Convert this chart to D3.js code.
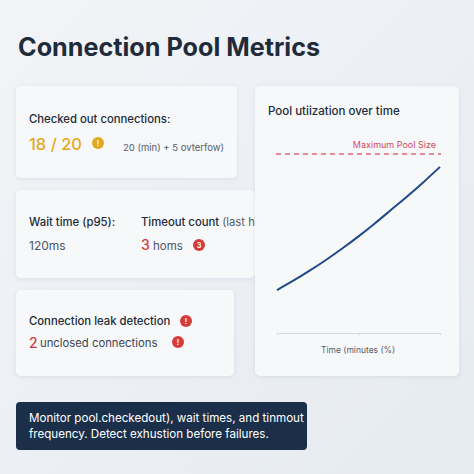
<!DOCTYPE html>
<html><head><meta charset="utf-8">
<script src="https://cdn.jsdelivr.net/npm/d3@7"></script>
<style>body{margin:0;background:#eef1f5;font-family:Inter,"Noto Sans",sans-serif}</style>
</head><body><svg id="c" width="474" height="474"></svg>
<script>
const minutes = [0, 1, 2, 3, 4, 5, 6, 7, 8, 9, 10];
const utilization = [6, 7.3, 8.7, 10.2, 11.8, 13.5, 15.3, 17.2, 19.1, 21.1, 23.2];
const maxPool = 25;

const svg = d3.select('#c');
const bg = svg.append('defs').append('linearGradient').attr('id', 'bg').attr('x1', 0).attr('y1', 0).attr('x2', 1).attr('y2', 1);
bg.append('stop').attr('offset', 0).attr('stop-color', '#f2f4f7');
bg.append('stop').attr('offset', 1).attr('stop-color', '#e6ebf1');
svg.append('rect').attr('width', 474).attr('height', 474).attr('fill', 'url(#bg)');

const f = svg.append('defs').append('filter').attr('id', 'sh').attr('x', -0.1).attr('y', -0.1).attr('width', 1.2).attr('height', 1.2);
f.append('feDropShadow').attr('dx', 0).attr('dy', 1).attr('stdDeviation', 2).attr('flood-color', '#9aa6b5').attr('flood-opacity', 0.25);

function card(x, y, w, h) {
    svg.append('rect').attr('x', x).attr('y', y).attr('width', w).attr('height', h).attr('rx', 5)
        .attr('fill', '#f7f8fa').attr('filter', 'url(#sh)');
}
function txt(x, y, s, size, color, weight, anchor) {
    return svg.append('text').attr('x', x).attr('y', y).text(s).attr('font-size', size)
        .attr('fill', color).attr('font-weight', weight || 400).attr('text-anchor', anchor || 'start');
}
function badge(x, y, r, color, s) {
    svg.append('circle').attr('cx', x).attr('cy', y).attr('r', r).attr('fill', color);
    txt(x, y + r * 0.45, s, r * 1.2, '#fff', 700, 'middle');
}

txt(18, 56, 'Connection Pool Metrics', 25.2, '#1f2a3a', 700);

card(16, 86, 221, 92);
txt(29, 123, 'Checked out connections:', 11.3, '#222b38', 500);
txt(29, 150, '18 / 20', 16.5, '#e5a823', 500);
badge(98, 143, 6, '#e5a823', '!');
txt(123, 151, '20 (min) + 5 ovterfow)', 9.5, '#555e6a');

card(16, 190, 239, 88);
txt(29, 226, 'Wait time (p95):', 11.3, '#222b38', 500);
txt(29, 250, '120ms', 12, '#4b5563');
const tc = txt(141, 226, 'Timeout count ', 11.3, '#222b38', 500);
tc.append('tspan').attr('font-weight', 400).attr('fill', '#555e6a').text('(last hour)');
txt(141, 250, '3', 14, '#d63b3b', 500);
txt(153, 250, 'homs', 11.5, '#4b5563');
badge(199, 245, 6, '#d63b3b', '3');

card(16, 290, 218, 86);
txt(29, 325, 'Connection leak detection', 11.3, '#222b38', 500);
badge(186, 321, 6, '#d63b3b', '!');
txt(29, 348, '2', 14, '#d63b3b', 500);
txt(40, 347, 'unclosed connections', 11.3, '#3b4452');
badge(178, 342, 6, '#d63b3b', '!');

card(255, 86, 204, 290);
txt(268, 115, 'Pool utiization over time', 11.5, '#222b38', 500);

const x = d3.scaleLinear().domain([0, 10]).range([277, 440]);
const y = d3.scaleLinear().domain([0, maxPool]).range([333, 154]);
svg.append('line').attr('x1', 276).attr('x2', 441).attr('y1', y(maxPool)).attr('y2', y(maxPool))
    .attr('stroke', '#e06a73').attr('stroke-width', 1.3).attr('stroke-dasharray', '5,4');
txt(436, 148, 'Maximum Pool Size', 9, '#d9475a', 400, 'end');
svg.append('path').datum(utilization)
    .attr('d', d3.line().x((d, i) => x(minutes[i])).y(d => y(d)).curve(d3.curveMonotoneX))
    .attr('fill', 'none').attr('stroke', '#1f4a86').attr('stroke-width', 2);
const ax = svg.append('g').attr('transform', `translate(0,${y(0)})`)
    .call(d3.axisBottom(x).tickValues([5]).tickSize(2).tickFormat(''));
ax.select('.domain').attr('stroke', '#d5d9df');
ax.selectAll('.tick line').attr('stroke', '#c9ced5');
txt(358, 353, 'Time (minutes (%)', 8.5, '#555e6a', 400, 'middle');

svg.append('rect').attr('x', 16).attr('y', 402).attr('width', 291).attr('height', 48).attr('rx', 4).attr('fill', '#1c2f4a');
txt(29, 422, 'Monitor pool.checkedout), wait times, and tinmout', 11.6, '#fff');
txt(29, 438, 'frequency. Detect exhustion before failures.', 11.6, '#fff');
</script></body></html>
